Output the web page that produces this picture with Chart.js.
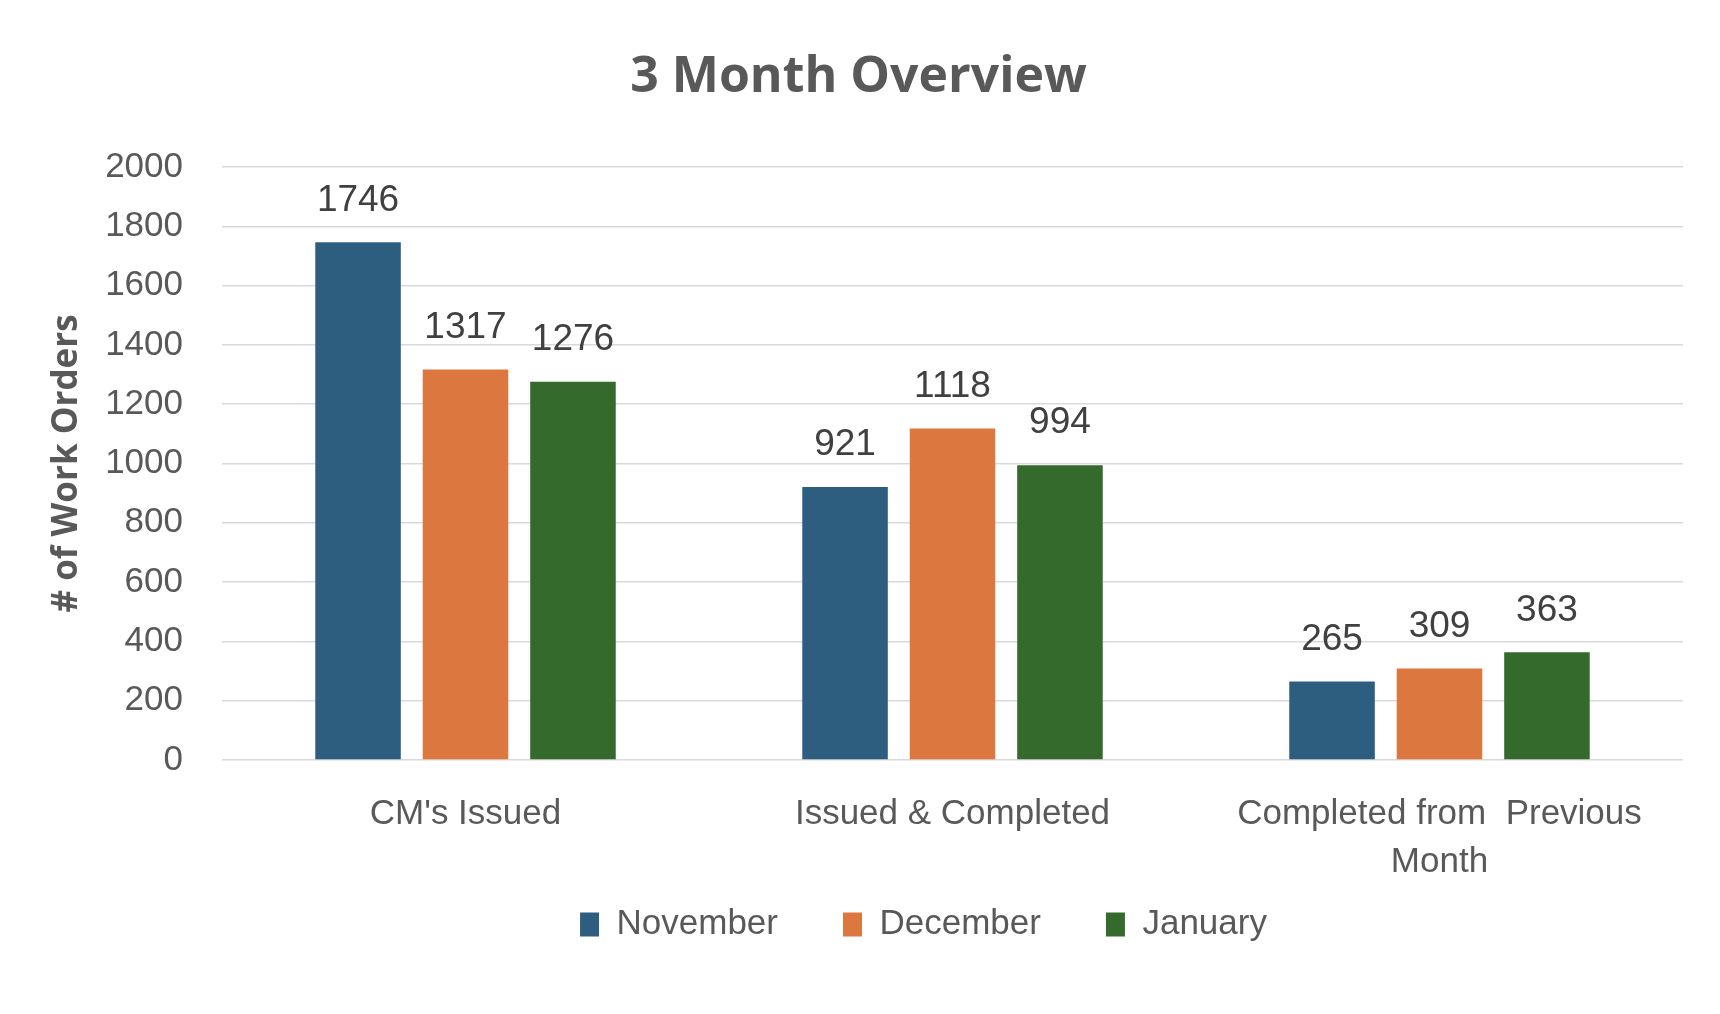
<!DOCTYPE html>
<html>
<head>
<meta charset="utf-8">
<script src="https://cdn.jsdelivr.net/npm/chart.js@4.4.1/dist/chart.umd.min.js"></script>
<style>
  html, body { margin: 0; padding: 0; background: #fff; }
  #wrap { width: 1720px; height: 1014px; }
</style>
</head>
<body>
<div id="wrap"><canvas id="chart"></canvas></div>
<script>
// chart data
const categories = ["CM's Issued", 'Issued & Completed', ['Completed from  Previous', 'Month']];
const months = ['November', 'December', 'January'];
const novemberValues = [1746, 921, 265];
const decemberValues = [1317, 1118, 309];
const januaryValues = [1276, 994, 363];
const monthColors = ['#2D5E80', '#DC773F', '#356A2D'];

const sans = '"Liberation Sans", Arial, sans-serif';
const bold = '"Open Sans", "DejaVu Sans", sans-serif';

// draws the number above each bar
const valueLabels = {
  id: 'valueLabels',
  afterDatasetsDraw(chart) {
    const ctx = chart.ctx;
    ctx.save();
    ctx.font = '37px ' + sans;
    ctx.fillStyle = '#404040';
    ctx.textAlign = 'center';
    ctx.textBaseline = 'middle';
    chart.data.datasets.forEach((ds, i) => {
      chart.getDatasetMeta(i).data.forEach((bar, j) => {
        ctx.fillText(String(ds.data[j]), bar.x, bar.y - 42);
      });
    });
    ctx.restore();
  }
};

// move title + legend to where the original has them
const nudgeBoxes = {
  id: 'nudgeBoxes',
  afterLayout(chart) {
    const lg = chart.legend;
    lg.left += 82;
    lg.right += 82;
    lg.top -= 44;
    lg.bottom -= 44;
    const t = chart.titleBlock;
    t.left += 17;
    t.right += 17;
  }
};

const ctx = document.getElementById('chart').getContext('2d');
new Chart(ctx, {
  type: 'bar',
  data: {
    labels: categories,
    datasets: [novemberValues, decemberValues, januaryValues].map((vals, i) => ({
      label: months[i],
      data: vals,
      backgroundColor: monthColors[i],
      categoryPercentage: 0.662,
      barPercentage: 0.796
    }))
  },
  options: {
    responsive: true,
    maintainAspectRatio: false,
    animation: false,
    devicePixelRatio: 1,
    layout: { padding: { left: 0, right: 37, top: 0, bottom: 18 } },
    plugins: {
      title: {
        display: true,
        text: '3 Month Overview',
        color: '#595959',
        font: { family: bold, size: 50, weight: 'bold', lineHeight: 1.2 },
        padding: { top: 48, bottom: 59 }
      },
      legend: {
        position: 'bottom',
        labels: {
          boxWidth: 19,
          boxHeight: 24,
          padding: 65,
          color: '#595959',
          font: { family: sans, size: 35 }
        }
      },
      tooltip: { enabled: false }
    },
    scales: {
      x: {
        grid: { display: false, drawTicks: false },
        border: { display: false },
        ticks: {
          color: '#595959',
          padding: 30,
          maxRotation: 0,
          font: { family: sans, size: 35, lineHeight: 1.37 }
        },
        afterFit(scale) { scale.height = 126; }
      },
      y: {
        min: 0,
        max: 2000,
        border: { display: false },
        grid: { color: '#D9D9D9', lineWidth: 1.5, drawTicks: false },
        ticks: {
          stepSize: 200,
          color: '#595959',
          padding: 39,
          font: { family: sans, size: 35 },
          callback: (v) => String(v)
        },
        title: {
          display: true,
          text: '# of Work Orders',
          color: '#595959',
          font: { family: bold, size: 35, weight: 'bold', lineHeight: 1.2 },
          padding: { top: 46, bottom: 0 }
        },
        afterFit(scale) { scale.width = 222; }
      }
    }
  },
  plugins: [valueLabels, nudgeBoxes]
});
</script>
</body>
</html>
